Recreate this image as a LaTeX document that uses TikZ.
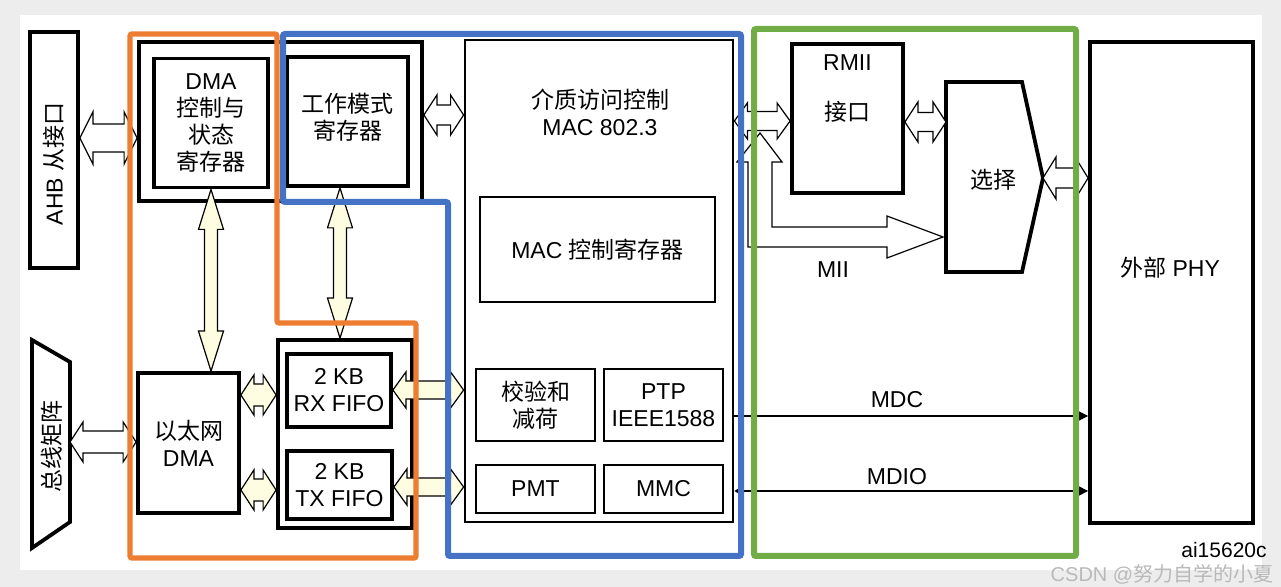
\documentclass[tikz,border=0pt]{standalone}
\usepackage{fontspec}
\setmainfont{Liberation Sans}
\newfontfamily\cjk{Noto Sans CJK SC}
\usepackage{tikz}
\usetikzlibrary{calc,arrows.meta}
\definecolor{cream}{HTML}{FFFDE1}
\definecolor{frameorange}{HTML}{ED7D31}
\definecolor{frameblue}{HTML}{4472C4}
\definecolor{framegreen}{HTML}{70AD47}
\tikzstyle{blk}=[draw, line width=1.9pt, rectangle, align=center, inner sep=0pt]
\tikzstyle{inbox}=[draw, line width=1.4pt, rectangle, align=center, inner sep=0pt]
\tikzstyle{txt}=[align=center, inner sep=0pt]
\tikzstyle{fatw}=[draw, line width=0.6pt, fill=white]
\tikzstyle{fatc}=[draw, line width=0.6pt, fill=cream]
\tikzstyle{grp}=[line width=3pt, rounded corners=1pt]
\newcommand{\fathead}{6.5pt}
\newcommand{\vhead}{20pt}
\newcommand{\hfat}[6]{%
  \draw[#1] let \p1=#2, \p2=#3, \p3=(0,#4) in
    (\x1,\y3) -- (\x1+\fathead,\y3+#6) -- (\x1+\fathead,\y3+#5) -- (\x2-\fathead,\y3+#5) -- (\x2-\fathead,\y3+#6)
    -- (\x2,\y3) -- (\x2-\fathead,\y3-#6) -- (\x2-\fathead,\y3-#5) -- (\x1+\fathead,\y3-#5) -- (\x1+\fathead,\y3-#6) -- cycle;}
\newcommand{\vfat}[6]{%
  \draw[#1] let \p1=#2, \p2=#3, \p3=(#4,0) in
    (\x3,\y1) -- (\x3+#6,\y1-\vhead) -- (\x3+#5,\y1-\vhead) -- (\x3+#5,\y2+\vhead) -- (\x3+#6,\y2+\vhead)
    -- (\x3,\y2) -- (\x3-#6,\y2+\vhead) -- (\x3-#5,\y2+\vhead) -- (\x3-#5,\y1-\vhead) -- (\x3-#6,\y1-\vhead) -- cycle;}

\begin{document}
\begin{tikzpicture}[x=0.5pt, y=-0.5pt, font=\fontsize{11.5}{13.5}\selectfont, >={Triangle[length=5pt,width=5pt]}]
\useasboundingbox (0,0) rectangle (1281,587);
\fill[gray!14] (0,0) rectangle (1281,587);
\fill[white] (20,15) rectangle (1262,570);

\node[blk, minimum width=24pt, minimum height=118pt] (ahb) at (54,150) {};
\node[rotate=90] at (54,164) {AHB {\cjk 从接口}};
\draw[line width=1.9pt] (32,340) -- (70,362) -- (70,522) -- (32,548) -- cycle;
\node[rotate=90] (bus) at (52,447) {\cjk 总线矩阵};
\coordinate (busr) at (70,442);

\node[blk, minimum width=141.5pt, minimum height=79.5pt] (regs) at (280.5,121.5) {};
\node[blk, minimum width=57pt, minimum height=64.5pt] (dmareg) at (211,123) {DMA\\{\cjk 控制与}\\{\cjk 状态}\\{\cjk 寄存器}};
\node[blk, minimum width=60.5pt, minimum height=64.5pt] (modereg) at (347.5,121.5) {};
\node[txt] at (347.5,117) {{\cjk 工作模式}\\{\cjk 寄存器}};

\node[inbox, minimum width=134pt, minimum height=241pt] (mac) at (599,281) {};
\node[txt] at (600,112) {{\cjk 介质访问控制}\\MAC 802.3};
\node[inbox, minimum width=117.5pt, minimum height=52.5pt] (macreg) at (597.5,249.5) {MAC {\cjk 控制寄存器}};
\node[inbox, minimum width=59.5pt, minimum height=36pt] (csum) at (535.5,405) {{\cjk 校验和}\\{\cjk 减荷}};
\node[inbox, minimum width=59.5pt, minimum height=36pt] (ptp) at (663.5,405) {PTP\\IEEE1588};
\node[inbox, minimum width=59.5pt, minimum height=24pt] (pmt) at (535.5,489) {PMT};
\node[inbox, minimum width=59.5pt, minimum height=24pt] (mmc) at (663.5,489) {MMC};

\node[blk, minimum width=50.5pt, minimum height=70pt] (ethdma) at (188.5,443) {{\cjk 以太网}\\DMA};
\node[blk, minimum width=67pt, minimum height=94pt] (fifo) at (345,434) {};
\node[blk, minimum width=52pt, minimum height=36.5pt] (rx) at (339,390.5) {2 KB\\RX FIFO};
\node[blk, minimum width=52.5pt, minimum height=34pt] (tx) at (339.5,485) {2 KB\\TX FIFO};

\node[blk, minimum width=55.5pt, minimum height=74.5pt] (rmii) at (847.5,118.5) {};
\node[txt] at (847.5,63) {RMII};
\node[txt] at (847.5,112) {\cjk 接口};
\draw[line width=1.9pt] (946,82) -- (1022,82) -- (1043,178) -- (1022,272) -- (946,272) -- cycle;
\node (sel) at (993,180) {\cjk 选择};
\coordinate (selin) at (946,122);
\coordinate (selout) at (1043,178);
\node[blk, minimum width=81.5pt, minimum height=240.5pt] (phy) at (1171.5,282.5) {};
\node at (1170,268) {{\cjk 外部} PHY};

\hfat{fatw}{(ahb.east)}{(regs.west)}{138}{7pt}{13pt}
\hfat{fatw}{(regs.east)}{(mac.west)}{115}{5pt}{10pt}
\hfat{fatw}{(busr)}{(ethdma.west)}{442}{5.5pt}{10pt}
\hfat{fatc}{(ethdma.east)}{(fifo.west)}{395}{5.5pt}{10pt}
\hfat{fatc}{(ethdma.east)}{(fifo.west)}{490}{5.5pt}{10pt}
\hfat{fatc}{(rx.east)}{(mac.west)}{390}{4.5pt}{9pt}
\hfat{fatc}{(tx.east)}{(mac.west)}{487}{4.5pt}{9pt}
\vfat{fatc}{(dmareg.south)}{(ethdma.north)}{211}{3.25pt}{6.25pt}
\vfat{fatc}{(modereg.south)}{(fifo.north)}{340}{3.25pt}{6.25pt}

\draw[fatw] (760,133) -- (782,162) -- (772,162) -- (772,227) -- (887,227) -- (887,216) -- (943,237) -- (887,258) -- (887,247) -- (748,247) -- (748,162) -- (737,162) -- cycle;
\hfat{fatw}{(mac.east)}{(rmii.west)}{121}{4.75pt}{9pt}
\hfat{fatw}{(rmii.east)}{(selin)}{122}{4.75pt}{10pt}
\hfat{fatw}{(selout)}{(phy.west)}{178}{5pt}{10.5pt}

\coordinate (mdc) at (0,416);
\coordinate (mdio) at (0,491);
\draw[->, line width=0.6pt] (mac.east |- mdc) -- (phy.west |- mdc);
\draw[{Triangle[length=3pt,width=3.5pt]}->, line width=0.6pt] (mac.east |- mdio) -- (phy.west |- mdio);
\node at (897,400) {MDC};
\node at (897,477) {MDIO};
\node at (833,270) {MII};

\draw[grp, frameorange, line width=2.6pt] (130,34) -- (277,34) -- (277,323) -- (416,323) -- (416,558) -- (130,558) -- cycle;
\draw[grp, frameblue] (283,34) -- (741,34) -- (741,556) -- (448,556) -- (448,202) -- (283,202) -- cycle;
\draw[grp, framegreen] (754,29) rectangle (1076,556);

\node[font=\fontsize{10.5}{12}\selectfont] at (1224,550) {ai15620c};
\node[gray!55, font=\fontsize{10}{12}\selectfont] at (1162,574) {CSDN @{\cjk 努力自学的小夏}};
\end{tikzpicture}
\end{document}
